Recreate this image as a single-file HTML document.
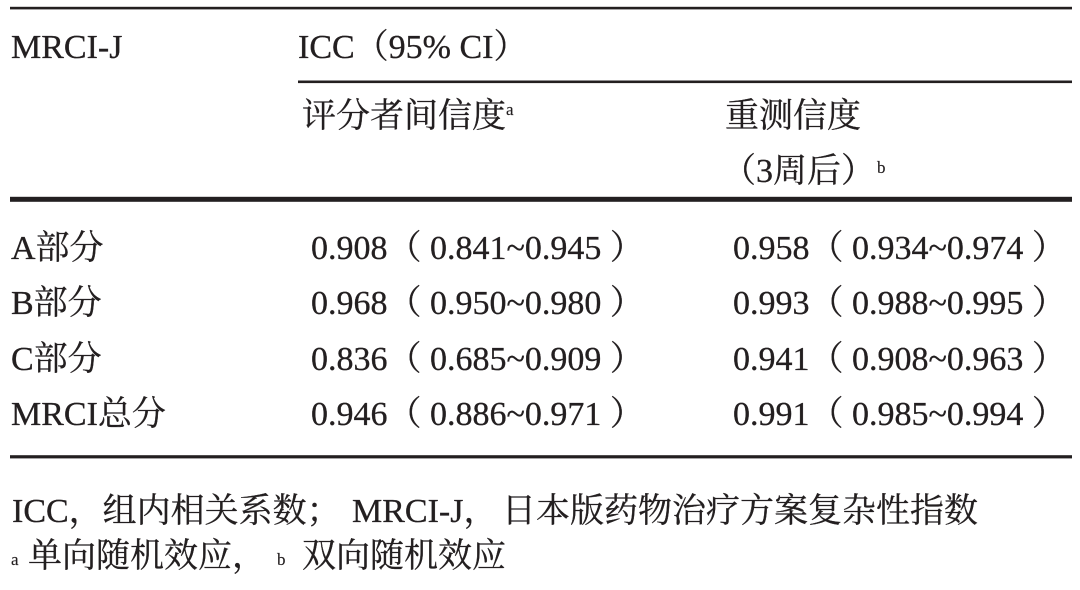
<!DOCTYPE html>
<html>
<head>
<meta charset="utf-8">
<style>
html,body{margin:0;padding:0;background:#fff;}
svg{display:block;}
text{font-family:"Liberation Serif","Noto Serif CJK SC","Noto Sans CJK SC",serif;fill:#231f20;stroke:#231f20;stroke-width:0.3px;font-size:34px;}
.sup{font-size:17px;stroke-width:0.15px;}
</style>
</head>
<body>
<svg width="1080" height="590" viewBox="0 0 1080 590" xmlns="http://www.w3.org/2000/svg">
<rect x="0" y="0" width="1080" height="590" fill="#fff"/>
<!-- rules -->
<rect x="10" y="6.8" width="1062" height="2.6" fill="#231f20"/>
<rect x="298" y="80.5" width="774" height="2.6" fill="#231f20"/>
<rect x="10" y="196.8" width="1062" height="5" fill="#231f20"/>
<rect x="10" y="455.2" width="1062" height="3.2" fill="#231f20"/>

<!-- header -->
<text x="11" y="58">MRCI-J</text>
<text x="298" y="58">ICC（95% CI）</text>
<text x="302" y="127">评分者间信度</text>
<text class="sup" x="506" y="115">a</text>
<text x="725" y="127">重测信度</text>
<text x="722" y="182">（3周后）</text>
<text class="sup" x="877" y="173">b</text>

<!-- rows -->
<text x="11" y="259">A部分</text>
<text x="311" y="259" xml:space="preserve">0.908（ 0.841~0.945 ）</text>
<text x="733" y="259" xml:space="preserve">0.958（ 0.934~0.974 ）</text>

<text x="11" y="314">B部分</text>
<text x="311" y="314" xml:space="preserve">0.968（ 0.950~0.980 ）</text>
<text x="733" y="314" xml:space="preserve">0.993（ 0.988~0.995 ）</text>

<text x="11" y="370">C部分</text>
<text x="311" y="370" xml:space="preserve">0.836（ 0.685~0.909 ）</text>
<text x="733" y="370" xml:space="preserve">0.941（ 0.908~0.963 ）</text>

<text x="11" y="425">MRCI总分</text>
<text x="311" y="425" xml:space="preserve">0.946（ 0.886~0.971 ）</text>
<text x="733" y="425" xml:space="preserve">0.991（ 0.985~0.994 ）</text>

<!-- footer -->
<text x="12" y="522">ICC，组内相关系数；</text>
<text x="352" y="522">MRCI-J，</text>
<text x="502" y="522">日本版药物治疗方案复杂性指数</text>

<text class="sup" x="11" y="565">a</text>
<text x="28" y="567">单向随机效应，</text>
<text class="sup" x="277" y="565">b</text>
<text x="302" y="567">双向随机效应</text>
</svg>
</body>
</html>
